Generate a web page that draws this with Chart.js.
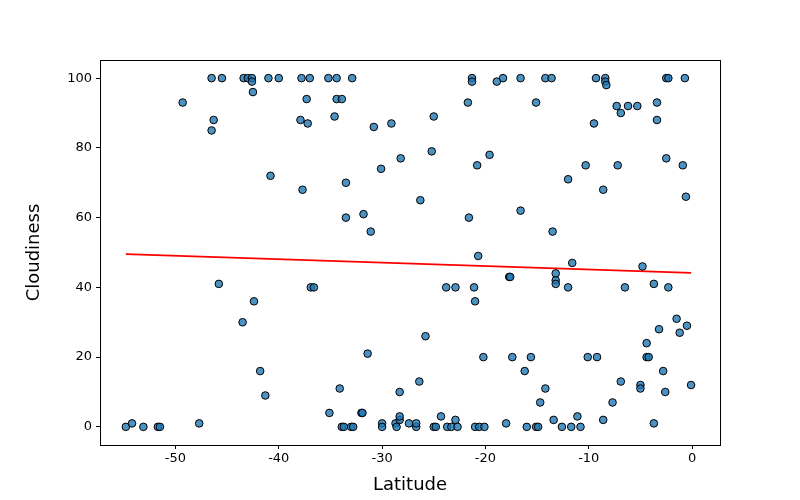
<!DOCTYPE html>
<html><head><script src="https://cdn.jsdelivr.net/npm/chart.js@4"></script>
<style>body{margin:0;background:#fff}#w{width:800px;height:500px}</style></head>
<body><div id="w"><canvas id="c"></canvas></div>
<script>
const latitude=[-46.5,-45.5,-43.4,-43,-42.6,-41,-40,-37.8,-37,-35.2,-34.4,-32.9,-21.3,-18.3,-16.6,-14.2,-13.6,-9.3,-8.4,-2.5,-2.3,-0.7,-42.6,-21.3,-18.9,-8.4,-8.3,
-49.3,-46.5,-46.3,-42.5,-40.8,-37.3,-37.9,-37.2,-34.6,-34.4,-33.9,-30.8,-29.1,-25,-21.7,-19.6,-20.8,-15.1,-9.5,-7.3,-6.9,-6.2,-5.3,-3.4,-3.4,-2.5,-0.9,-0.6,-10.3,-12,-8.6,-7.2,
-37.7,-33.5,-33.5,-31.8,-31.1,-30.1,-28.2,-26.3,-25.2,-21.6,-20.7,-16.6,-13.5,-11.6,-13.2,-13.2,-13.2,-12,
-45.8,-36.9,-36.6,-23.8,-22.9,-21.1,-21,-43.5,-42.4,-41.8,-41.3,-31.4,-25.8,-20.2,-17.4,-15.6,-16.2,-14.2,-14.7,-10.1,-9.2,-6.9,-7.7,-6.5,-4.8,-3.7,-2.3,
-4.4,-4.4,-4.2,-5,-5,-3.2,-2.8,-2.6,-1.5,-1.2,-0.5,-0.1,-3.7,
-54.8,-54.2,-53.1,-51.7,-51.5,-47.7,-35.1,-34.1,-33.9,-33.7,-33,-32.8,-32,-31.9,-30,-30,-28.7,-28.6,-28.3,-28.3,-28.3,-27.4,-26.7,-26.7,-26.4,-25,-24.8,-24.3,-23.7,-23.3,-22.9,-22.7,-21,-20.6,-20.1,-18,-17.7,-17.6,-16,-15.1,-14.9,-13.4,-12.6,-11.7,-11.1,-10.8,-8.6];
const cloudiness=[100,100,100,100,100,100,100,100,100,100,100,100,100,100,100,100,100,100,100,100,100,100,99,99,99,99,98,
93,85,88,96,72,94,88,87,89,94,94,86,87,89,93,78,75,93,87,92,90,92,92,93,88,77,75,66,75,71,68,75,
68,70,60,61,56,74,77,65,79,60,49,62,56,47,44,42,41,40,
41,40,40,40,40,40,36,30,36,16,9,21,26,20,20,20,16,11,7,20,20,13,7,40,46,41,40,
24,20,20,12,11,28,16,10,31,27,29,12,1,
0,1,0,0,0,1,4,11,0,0,0,0,4,4,1,0,1,0,2,3,10,1,0,1,13,0,0,3,0,0,2,0,0,0,0,1,43,43,0,0,0,2,0,0,3,0,2];
const xTicks=[-50,-40,-30,-20,-10,0];
const yTicks=[0,20,40,60,80,100];
const pts=latitude.map((x,i)=>({x,y:cloudiness[i]}));
const n=pts.length,mx=latitude.reduce((a,b)=>a+b)/n,my=cloudiness.reduce((a,b)=>a+b)/n;
let sxy=0,sxx=0;pts.forEach(p=>{sxy+=(p.x-mx)*(p.y-my);sxx+=(p.x-mx)**2});
const slope=sxy/sxx,icpt=my-slope*mx;
const xmin=Math.min(...latitude),xmax=Math.max(...latitude);
const reg=[{x:xmin,y:icpt+slope*xmin},{x:xmax,y:icpt+slope*xmax}];
const tickFont={family:'DejaVu Sans',size:13};
const frame={id:'frame',afterDraw(c){const a=c.chartArea,x=c.ctx;x.save();x.strokeStyle='#000';x.lineWidth=1;x.strokeRect(a.left+0.5,a.top+0.5,a.right-a.left,a.bottom-a.top);x.restore();}};
const grid={display:true,drawOnChartArea:false,drawTicks:true,tickLength:4,color:'#000',tickColor:'#000'};
new Chart(document.getElementById('c'),{
type:'scatter',
data:{datasets:[
{data:pts,backgroundColor:'rgba(31,119,180,0.8)',borderColor:'#000',borderWidth:1,pointRadius:3.8,pointHoverRadius:3.8},
{type:'line',data:reg,borderColor:'red',borderWidth:1.8,pointRadius:0,fill:false}
]},
options:{responsive:true,maintainAspectRatio:false,animation:false,
layout:{padding:{left:20,right:80,top:60,bottom:0}},
plugins:{legend:{display:false},tooltip:{enabled:false}},
scales:{
x:{type:'linear',min:-57.3,max:2.7,grid,border:{color:'#000'},
afterBuildTicks:a=>{a.ticks=xTicks.map(v=>({value:v}))},
afterFit:a=>{a.height=55},
ticks:{color:'#000',font:tickFont,maxRotation:0,padding:2},
title:{display:true,text:'Latitude',color:'#000',font:{family:'DejaVu Sans',size:18},padding:{top:0}}},
y:{min:-5.2,max:105.2,grid,border:{color:'#000'},
afterBuildTicks:a=>{a.ticks=yTicks.map(v=>({value:v}))},
afterFit:a=>{a.width=80},
ticks:{color:'#000',font:tickFont,padding:4},
title:{display:true,text:'Cloudiness',color:'#000',font:{family:'DejaVu Sans',size:18}}}
}},plugins:[frame]});
</script></body></html>
